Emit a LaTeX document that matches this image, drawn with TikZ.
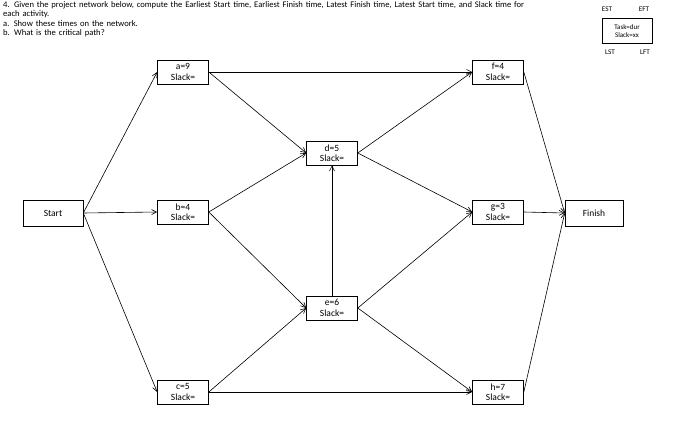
\documentclass[tikz,border=0pt]{standalone}
\usepackage{fontspec}
\setmainfont{Carlito}
\usetikzlibrary{arrows.meta}
\begin{document}
\begin{tikzpicture}[x=1pt,y=-1pt,
  task/.style={draw,line width=0.6pt,minimum width=51pt,minimum height=24pt,align=center,font=\fontsize{9.5}{10.5}\selectfont,inner sep=1pt},
  term/.style={draw,line width=0.6pt,minimum width=60pt,minimum height=26pt,font=\fontsize{9.5}{10.5}\selectfont},
  con/.style={-{Straight Barb[length=5pt,width=5pt]},line width=0.6pt},
  small/.style={font=\fontsize{7.2}{9}\selectfont,inner sep=0pt}]
\useasboundingbox (0,0) rectangle (687,441);
\node[small,font=\fontsize{8.6}{9.6}\selectfont,anchor=north west,align=left,text width=535pt] (q) at (3,1) {4. Given the project network below, compute the Earliest Start time, Earliest Finish time, Latest Finish time, Latest Start time, and Slack time for each activity.\\a. Show these times on the network.\\b. What is the critical path?};
\node[draw,line width=0.5pt,minimum width=50pt,minimum height=25pt,align=center,font=\fontsize{7}{8.5}\selectfont,inner sep=1pt] (leg) at (627,31) {Task=dur\\Slack=xx};
\node[small] (est) at (607,9) {EST};
\node[small] (eft) at (644,9) {EFT};
\node[small] (lst) at (610,52) {LST};
\node[small] (lft) at (645,52) {LFT};
\node[term] (s) at (53,213) {Start};
\node[term,minimum width=58pt] (fin) at (594,213) {Finish};
\node[task] (a) at (183,72) {a=9\\Slack=};
\node[task] (b) at (183,212) {b=4\\Slack=};
\node[task] (c) at (183,392) {c=5\\Slack=};
\node[task] (d) at (332,153) {d=5\\Slack=};
\node[task] (e) at (332,308) {e=6\\Slack=};
\node[task] (f) at (498,72) {f=4\\Slack=};
\node[task] (g) at (498,212) {g=3\\Slack=};
\node[task] (h) at (498,392) {h=7\\Slack=};
\draw[con] (s.east) -- (a.west);
\draw[con] (s.east) -- (b.west);
\draw[con] (s.east) -- (c.west);
\draw[con] (a.east) -- (f.west);
\draw[con] (a.east) -- (d.west);
\draw[con] (b.east) -- (d.west);
\draw[con] (b.east) -- (e.west);
\draw[con] (c.east) -- (e.west);
\draw[con] (c.east) -- (h.west);
\draw[con] (e.north) -- (d.south);
\draw[con] (d.east) -- (f.west);
\draw[con] (d.east) -- (g.west);
\draw[con] (e.east) -- (g.west);
\draw[con] (e.east) -- (h.west);
\draw[con] (f.east) -- (fin.west);
\draw[con] (g.east) -- (fin.west);
\draw[con] (h.east) -- (fin.west);
\end{tikzpicture}
\end{document}
